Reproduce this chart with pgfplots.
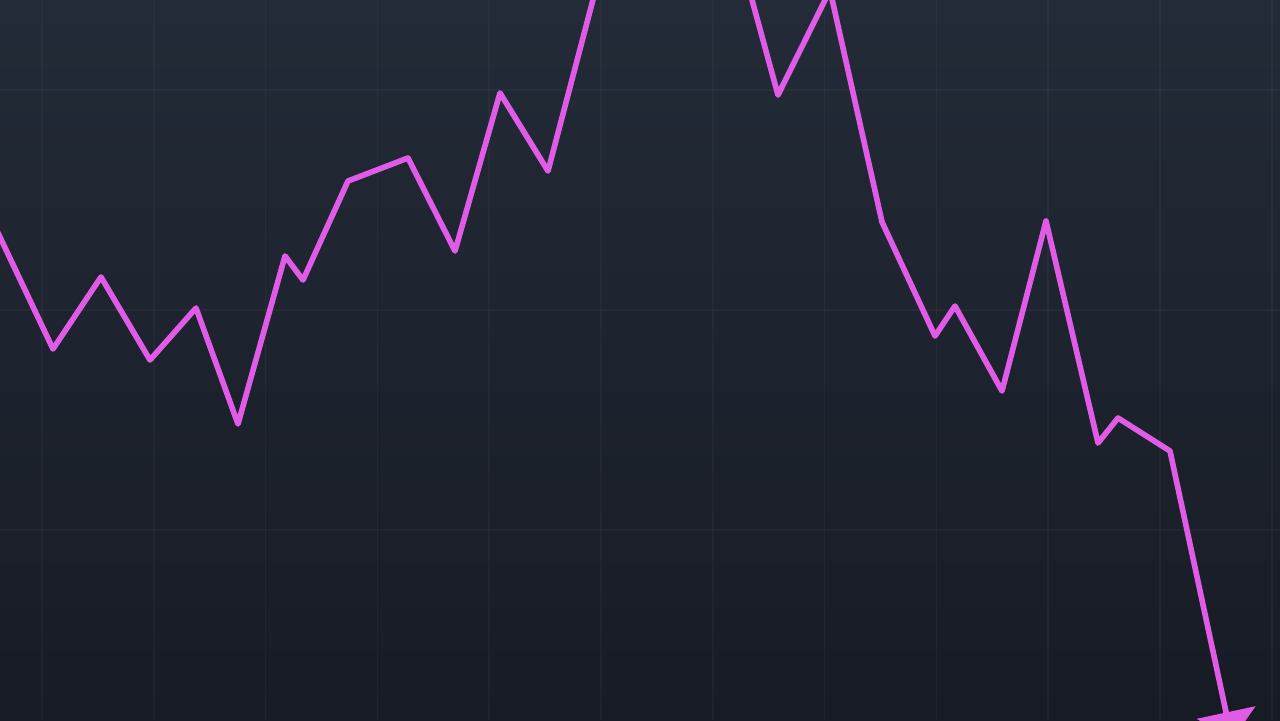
\documentclass[border=0pt]{standalone}
\usepackage{pgfplots}
\pgfplotsset{compat=1.18}
\usetikzlibrary{arrows.meta}
\definecolor{bgtop}{HTML}{232B38}
\definecolor{bgbot}{HTML}{171B24}
\definecolor{linec}{HTML}{E05BE6}
\begin{document}
\begin{tikzpicture}
\begin{axis}[
  at={(0,0)}, anchor=south west,
  scale only axis,
  width=16cm, height=9cm,
  xmin=0, xmax=1280, ymin=0, ymax=720,
  axis background/.style={shade, top color=bgtop, bottom color=bgbot},
  axis line style={draw=none},
  xtick={42,153.8,265.6,377.4,489.2,601,712.8,824.6,936.4,1048.2,1160,1271.8},
  ytick={190,410,630},
  xticklabels={}, yticklabels={},
  major tick length=0pt,
  grid=major,
  major grid style={color=white, opacity=0.03, line width=0.6pt},
  clip=true,
]
\addplot[color=linec, line width=2pt, line join=round, line cap=round,
  -{Triangle[width=21pt,length=10pt]}] coordinates {
(-10,504)
(53,371)
(101,443)
(150,360)
(196,412)
(238,296)
(285,464)
(303,440)
(348,539)
(408,562)
(455,469)
(500,627)
(548,549)
(605,766)
(670,850)
(740,764)
(778,625)
(830,730)
(882,498)
(935,384)
(955,414)
(1002,329)
(1046,499)
(1098,277)
(1118,302)
(1170,269)
(1232,-20)
};
\end{axis}
\pgfresetboundingbox
\useasboundingbox (0,0) rectangle (16cm,9cm);
\end{tikzpicture}
\end{document}
